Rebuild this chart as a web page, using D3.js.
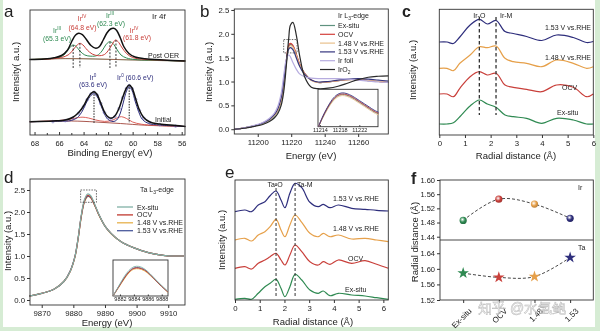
<!DOCTYPE html>
<html>
<head>
<meta charset="utf-8">
<script src="https://cdn.jsdelivr.net/npm/d3@7/dist/d3.min.js"></script>
<style>
  body { margin: 0; background: #fff; }
  svg { will-change: transform; }
  text { font-family: Arial, "Liberation Sans", sans-serif; opacity: 0.999; }
</style>
</head>
<body>
<svg id="chart" width="600" height="331"></svg>
<script>
// ---------- panel a : Ir 4f XPS (binding energy, a.u.) ----------
const aTicks = [68, 66, 64, 62, 60, 58, 56];
const aMinor = [67, 65, 63, 61, 59, 57];
const aPostTotal = [[68.4,75.5],[67.2,76],[66.4,77.2],[65.8,79.5],[65.3,85],[64.95,94],[64.65,100],[64.4,101.7],[64.1,100.3],[63.8,96],[63.4,89.5],[63.0,86.7],[62.7,88.5],[62.4,95],[62.1,102],[61.8,106],[61.55,106.7],[61.3,104.5],[61.0,97],[60.7,88],[60.3,81.5],[59.8,78],[59.0,76.3],[57.5,75],[55.7,74]];
const aPostIr3 = [[68.4,75.5],[66.8,76.3],[66.0,77.5],[65.6,80],[65.25,85.5],[64.95,89.5],[64.85,90],[64.6,88.5],[64.3,84],[63.9,80],[63.4,78.8],[62.9,79.5],[62.5,84],[62.2,90],[61.95,93],[61.85,93.3],[61.6,91.5],[61.3,86],[60.95,80],[60.5,77],[59.8,75.5],[57.5,74.6],[55.7,74]];
const aPostIr4 = [[68.4,75.5],[66.8,76],[65.8,77.5],[65.2,80.5],[64.8,86],[64.5,90.3],[64.3,91.7],[64.05,90],[63.7,85],[63.3,81],[62.8,79.3],[62.3,80.5],[61.9,86],[61.6,92],[61.4,95],[61.2,93.5],[60.9,88],[60.5,81.5],[60.0,77.5],[59.2,75.8],[57.5,74.8],[55.7,74]];
const aPostBg = [[68.4,75.5],[65.5,76.4],[63,76],[60.5,75.2],[58,74.5],[55.7,74]];
const aInitTotal = [[68.4,13.3],[66.5,14],[65.5,15],[64.9,17.5],[64.4,22.5],[64.0,29],[63.7,36],[63.4,41.5],[63.15,43.3],[62.9,40.5],[62.6,32],[62.3,23],[62.0,18],[61.75,16.8],[61.45,19],[61.1,27],[60.8,38],[60.5,47],[60.28,50],[60.05,47],[59.75,36],[59.45,25],[59.1,17.5],[58.6,13],[57.8,11],[56.5,9.5],[55.7,8.5]];
const aInitIr0 = [[68.4,13.3],[66,13.8],[65,14.5],[64.5,17.5],[64.1,24],[63.75,33],[63.4,39.5],[63.15,41.3],[62.9,38.5],[62.6,30],[62.3,21],[62.0,15.5],[61.6,13.5],[61.3,15],[61.0,22],[60.75,33],[60.5,44],[60.28,48],[60.05,44.5],[59.8,34],[59.5,23],[59.2,15.5],[58.7,11.5],[57.8,10],[55.7,8.5]];
const aInitOx = [[68.4,13.3],[66,14.5],[65.0,16],[64.4,17.5],[64.05,17.8],[63.6,17],[63.0,15],[62.3,13.6],[61.7,14.5],[61.2,17.5],[60.9,18.3],[60.5,16.5],[60.0,13],[59.3,10.8],[58,9.6],[55.7,8.5]];
const aInitBg = [[68.4,13.3],[65,14],[63,13],[61,11.5],[59,9.8],[55.7,8.5]];
const aPostDrops = [[64.85,90],[64.3,91.7],[61.85,93.3],[61.36,95]];
const aInitDrops = [[63.15,43.3],[60.28,50]];

// ---------- panel b : Ir L3-edge XANES ----------
const bTicksX = [11200, 11220, 11240, 11260];
const bTicksY = [0, 0.5, 1.0, 1.5, 2.0, 2.5];
const bE = [11186,11192,11198,11203,11207,11210,11212,11214,11215.5,11217,11218.5,11219.5,11221,11223,11225,11228,11232,11236,11242,11248,11254,11260,11266,11272,11278];
const bExsitu = [0.00,0.03,0.07,0.12,0.19,0.28,0.38,0.58,0.92,1.38,1.72,1.78,1.74,1.56,1.36,1.17,1.03,0.98,0.99,1.02,1.04,1.04,1.02,1.00,0.98];
const bOCV    = [0.00,0.03,0.07,0.13,0.21,0.30,0.41,0.62,0.96,1.42,1.76,1.80,1.76,1.58,1.37,1.17,1.03,0.98,0.99,1.02,1.04,1.04,1.02,1.00,0.98];
const b148    = [0.00,0.03,0.07,0.12,0.20,0.29,0.40,0.60,0.93,1.38,1.70,1.75,1.72,1.55,1.35,1.16,1.02,0.98,0.99,1.02,1.04,1.04,1.02,1.00,0.98];
const b153    = [0.00,0.03,0.07,0.13,0.21,0.31,0.43,0.66,1.00,1.42,1.68,1.71,1.67,1.50,1.32,1.15,1.03,0.99,1.00,1.03,1.05,1.06,1.05,1.03,1.01];
const bIrFoil = [0.00,0.03,0.08,0.14,0.23,0.34,0.48,0.75,1.12,1.45,1.56,1.52,1.40,1.26,1.16,1.10,1.07,1.06,1.06,1.06,1.05,1.03,1.01,0.99,0.98];
const bIrO2   = [0.00,0.02,0.06,0.10,0.16,0.24,0.33,0.50,0.78,1.30,1.90,2.18,2.24,1.98,1.55,1.10,0.88,0.85,0.86,0.90,0.97,1.04,1.09,1.11,1.12];
const bNames = ['Ex-situ', 'OCV', '1.48 V vs.RHE', '1.53 V vs.RHE', 'Ir foil', 'IrO2'];
const bInTicks = [11214, 11218, 11222];
const bInE = [11213.7,11214.5,11215.5,11216.5,11217.5,11218.3,11219,11220,11221,11222,11223,11224,11225,11225.9];
const bInExsitu = [1.50,1.58,1.67,1.74,1.785,1.80,1.80,1.785,1.76,1.73,1.70,1.67,1.64,1.62];
const bInOCV    = [1.50,1.585,1.675,1.745,1.79,1.805,1.805,1.79,1.765,1.735,1.705,1.675,1.645,1.625];
const bIn148    = [1.50,1.575,1.66,1.73,1.775,1.79,1.79,1.775,1.75,1.72,1.69,1.66,1.63,1.61];
const bIn153    = [1.50,1.59,1.68,1.755,1.80,1.815,1.815,1.80,1.775,1.745,1.715,1.685,1.655,1.635];

// ---------- panel c : Ir EXAFS (stacked, a.u.) ----------
const cTicks = [0, 1, 2, 3, 4, 5, 6];
const cR = [0,0.3,0.55,0.8,1.2,1.56,1.87,2.21,2.56,2.88,3.4,3.99,4.57,5.22,5.74,6.0];
const c153    = [93,93,91.5,98,110,115.7,111,114.5,103.5,101.5,98.5,94.5,100,97.5,92.5,93.5];
const c148    = [66.7,66.7,64.3,71.7,80,88.3,87.3,89,76.7,73.3,71.7,68.3,75,71.7,66.7,68.3];
const cOCV    = [41,41,38.3,46.7,58.3,63.3,60,61.7,50,47.7,45.7,43.3,50,47.7,38.3,41];
const cExsitu = [11,11,12.3,18.3,29,35,31,27.7,20,18.3,16.7,11.7,16.7,15,11,11];
const cPeaks = [1.56, 2.21];

// ---------- panel d : Ta L3-edge XANES ----------
const dTicksX = [9870, 9880, 9890, 9900, 9910];
const dTicksY = [0, 0.5, 1.0, 1.5, 2.0, 2.5];
const dE = [9866,9870,9874,9877,9879,9880.5,9881.5,9882.5,9883.5,9884.5,9885.5,9886.5,9888,9890,9892,9895,9899,9904,9909,9915];
const dExsitu = [0.09,0.15,0.25,0.42,0.65,0.98,1.40,1.92,2.28,2.41,2.37,2.22,1.96,1.68,1.51,1.33,1.19,1.07,1.01,1.00];
const dOCV    = [0.09,0.15,0.25,0.42,0.65,0.98,1.39,1.90,2.25,2.38,2.34,2.20,1.95,1.68,1.51,1.33,1.19,1.07,1.01,1.00];
const d148    = [0.09,0.15,0.25,0.42,0.65,0.97,1.38,1.88,2.22,2.35,2.32,2.19,1.94,1.68,1.50,1.33,1.19,1.07,1.01,1.00];
const d153    = [0.09,0.15,0.25,0.42,0.66,0.99,1.40,1.90,2.24,2.36,2.33,2.20,1.95,1.68,1.51,1.33,1.19,1.07,1.01,1.00];
const dNames = ['Ex-situ', 'OCV', '1.48 V vs.RHE', '1.53 V vs.RHE'];
const dInTicks = [9882, 9884, 9886, 9888];
const dInE = [9881,9881.8,9882.6,9883.3,9884,9884.7,9885.5,9886.3,9887.2,9888,9888.9];
const dInExsitu = [2.00,2.12,2.24,2.32,2.365,2.37,2.34,2.28,2.20,2.13,2.06];
const dInOCV    = [2.00,2.11,2.22,2.30,2.345,2.35,2.325,2.27,2.19,2.12,2.05];
const dIn148    = [2.00,2.105,2.21,2.29,2.335,2.34,2.315,2.26,2.185,2.115,2.045];
const dIn153    = [2.00,2.115,2.225,2.305,2.35,2.355,2.33,2.272,2.19,2.12,2.05];

// ---------- panel e : Ta EXAFS (stacked, a.u.) ----------
const eTicks = [0, 1, 2, 3, 4, 5, 6];
const eR = [0,0.40,0.67,0.94,1.21,1.42,1.66,1.86,2.02,2.22,2.43,2.70,3.03,3.37,3.57,3.84,4.18,4.72,5.26,5.73,6.2];
const e153    = [88.3,90,88.3,95,98.3,104.3,109,100,92.3,106.7,116.7,112.3,97.7,93.3,95.7,92.3,95,91.7,90.7,89.7,89];
const e148    = [60,61.7,59,65,68.3,73.3,80.7,70,63.3,75,85,77.7,66.7,63.3,66.7,63.3,65,61,61.7,60,58.3];
const eOCV    = [31.7,33.3,31,36.7,40,43.3,46.7,40,35,45,55,48.3,38.3,35,38.3,35.7,40,36.7,39.3,35.7,31.7];
const eExsitu = [0.7,1.7,0.7,6.7,13.3,16.7,20.7,11.7,3.3,13.3,25.7,20,10,6.7,9,4.3,6.7,5,4,2.3,0.7];
const ePeaks = [1.66, 2.43];

// ---------- panel f : fitted radial distances ----------
const fCats = ['Ex-situ', 'OCV', '1.48', '1.53'];
const fIr = [1.486, 1.546, 1.532, 1.492];
const fTa = [1.589, 1.578, 1.580, 1.629];
const fIrTicks = [1.44, 1.48, 1.52, 1.56, 1.60];
const fTaTicks = [1.52, 1.56, 1.60, 1.64];

const GREEN = '#2f8a52', RED = '#c9403b', ORANGE = '#e6a04a', NAVY = '#2e2e7c';

const svg = d3.select('#chart');
const ink = '#222';

const smooth = (x, y) => d3.line().x(d => x(d[0])).y(d => y(d[1])).curve(d3.curveCatmullRom.alpha(0.5));

function text(x, y, s, size, opt = {}) {
  const t = svg.append('text').attr('x', x).attr('y', y).attr('font-size', size)
    .attr('fill', opt.fill || ink).attr('text-anchor', opt.anchor || 'start')
    .attr('font-weight', opt.weight || 'normal');
  if (opt.rotate) t.attr('transform', `rotate(${opt.rotate},${x},${y})`);
  if (s !== null) t.text(s);
  return t;
}

function frame(x0, y0, x1, y1, fill) {
  return svg.append('rect').attr('x', x0).attr('y', y0).attr('width', x1 - x0).attr('height', y1 - y0)
    .attr('fill', fill || 'none').attr('stroke', '#333').attr('stroke-width', 0.9);
}

function axis(gen, tx, ty, size) {
  const g = svg.append('g').attr('transform', `translate(${tx},${ty})`).call(gen);
  g.select('.domain').remove();
  g.selectAll('line').attr('stroke', '#333');
  g.selectAll('text').attr('font-size', size).attr('fill', ink).attr('font-family', 'Arial, "Liberation Sans", sans-serif');
  return g;
}

function path(data, line, color, w, dash) {
  const p = svg.append('path').datum(data).attr('d', line).attr('fill', 'none')
    .attr('stroke', color).attr('stroke-width', w);
  if (dash) p.attr('stroke-dasharray', dash);
  return p;
}

// side strips of the page
svg.append('rect').attr('x', 0).attr('y', 0).attr('width', 3).attr('height', 331).attr('fill', '#d6ecd4');
svg.append('rect').attr('x', 595).attr('y', 0).attr('width', 5).attr('height', 331).attr('fill', '#d6ecd4');
svg.append('rect').attr('x', 0).attr('y', 327).attr('width', 600).attr('height', 4).attr('fill', '#d6ecd4');

// ===== a =====
{
  const x = d3.scaleLinear().domain([68.37, 55.73]).range([30, 185]);
  const y = d3.scaleLinear().domain([0, 125]).range([135, 10]);
  const ln = smooth(x, y);
  path(aPostBg, ln, GREEN, 0.8);
  path(aPostBg, ln, RED, 0.6);
  path(aPostIr3, ln, GREEN, 1);
  path(aPostIr4, ln, RED, 1);
  path(aPostTotal, ln, '#111', 1.5);
  path(aInitBg, ln, '#a0443a', 0.9);
  path(aInitOx, ln, '#d9504a', 0.9);
  path(aInitIr0, ln, NAVY, 1);
  svg.append('g').selectAll('circle').data(aInitTotal.slice(1, -1)).join('circle')
    .attr('cx', d => x(d[0])).attr('cy', d => y(d[1]) + 0.6).attr('r', 1.3)
    .attr('fill', 'none').attr('stroke', '#7070c0').attr('stroke-width', 0.6);
  path(aInitTotal, ln, '#111', 1.5);
  aPostDrops.forEach(d => svg.append('line').attr('x1', x(d[0])).attr('x2', x(d[0]))
    .attr('y1', y(d[1])).attr('y2', y(67)).attr('stroke', '#222').attr('stroke-width', 0.9).attr('stroke-dasharray', '2,1.5'));
  aInitDrops.forEach(d => svg.append('line').attr('x1', x(d[0])).attr('x2', x(d[0]))
    .attr('y1', y(d[1])).attr('y2', y(12)).attr('stroke', '#222').attr('stroke-width', 1).attr('stroke-dasharray', '1.5,1.2'));
  frame(30, 10, 185, 135);
  axis(d3.axisBottom(x).tickValues(aTicks).tickFormat(d3.format('d')).tickSize(-3).tickPadding(5.5), 0, 135, 7.5);
  axis(d3.axisBottom(x).tickValues(aMinor).tickFormat('').tickSize(-2), 0, 135, 7.5);

  const sup = (cx, y0, sp, color) => {
    const t = text(cx, y0, null, 6.8, { fill: color, anchor: 'middle' });
    t.append('tspan').text('Ir');
    t.append('tspan').attr('dy', -2.8).attr('font-size', 4.6).text(sp);
    return t;
  };
  sup(57, 33, 'III', GREEN);  text(57, 41, '(65.3 eV)', 6.8, { fill: GREEN, anchor: 'middle' });
  sup(82, 20.5, 'IV', RED);   text(82.5, 29.5, '(64.8 eV)', 6.8, { fill: RED, anchor: 'middle' });
  sup(110, 18, 'III', GREEN); text(111, 26, '(62.3 eV)', 6.8, { fill: GREEN, anchor: 'middle' });
  sup(134, 32.5, 'IV', RED);  text(137, 39.5, '(61.8 eV)', 6.8, { fill: RED, anchor: 'middle' });
  sup(93, 80, '0', NAVY);     text(93, 87, '(63.6 eV)', 6.8, { fill: NAVY, anchor: 'middle' });
  const t0 = text(117, 80, null, 6.8, { fill: NAVY });
  t0.append('tspan').text('Ir');
  t0.append('tspan').attr('dy', -2.8).attr('font-size', 4.6).text('0');
  t0.append('tspan').attr('dy', 2.8).text(' (60.6 eV)');
  text(152, 19, 'Ir 4f', 8);
  text(148, 58, 'Post OER', 7);
  text(155, 122, 'Initial', 7);
  text(4, 17, 'a', 17);
  text(110, 155.5, 'Binding Energy( eV)', 9.5, { anchor: 'middle' });
  text(19, 72, 'Intensity( a.u.)', 9.5, { anchor: 'middle', rotate: -90 });
}

// ===== b =====
{
  const x = d3.scaleLinear().domain([11186, 11278]).range([234.3, 388.3]);
  const y = d3.scaleLinear().domain([-0.1, 2.52]).range([134, 9]);
  const ln = smooth(x, y);
  const series = [bExsitu, bOCV, b148, b153, bIrFoil, bIrO2];
  const colors = ['#5e927f', '#d4403c', '#e9c08c', '#35357e', '#b6acdf', '#2a2a2a'];
  series.forEach((s, i) => path(d3.zip(bE, s), ln, colors[i], 1.2));
  svg.append('rect').attr('x', x(11215.5)).attr('y', y(1.88)).attr('width', x(11223.5) - x(11215.5))
    .attr('height', y(1.60) - y(1.88)).attr('fill', 'none').attr('stroke', '#444').attr('stroke-width', 0.8).attr('stroke-dasharray', '1.5,1.2');

  const xi = d3.scaleLinear().domain([11213.6, 11225.8]).range([318, 378]);
  const yi = d3.scaleLinear().domain([1.50, 1.85]).range([126.7, 89.3]);
  frame(318, 89.3, 378, 126.7, '#fff');
  const li = smooth(xi, yi);
  [bIn148, bInExsitu, bInOCV, bIn153].forEach((s, i) =>
    path(d3.zip(bInE, s), li, [colors[2], colors[0], colors[1], colors[3]][i], 0.9));
  axis(d3.axisBottom(xi).tickValues(bInTicks).tickFormat(d3.format('d')).tickSize(-1.5).tickPadding(1), 0, 126.7, 5.5);

  frame(234.3, 9, 388.3, 134);
  axis(d3.axisBottom(x).tickValues(bTicksX).tickFormat(d3.format('d')).tickSize(3).tickPadding(2.5), 0, 134, 7.8);
  axis(d3.axisLeft(y).tickValues(bTicksY).tickFormat(d3.format('.1f')).tickSize(3).tickPadding(2), 234.3, 0, 7.8);

  const lg = text(338, 18, null, 7);
  lg.append('tspan').text('Ir L');
  lg.append('tspan').attr('dy', 2).attr('font-size', 5).text('3');
  lg.append('tspan').attr('dy', -2).text('-edge');
  bNames.forEach((n, i) => {
    const yy = 25.5 + i * 8.8;
    svg.append('line').attr('x1', 320).attr('x2', 335).attr('y1', yy).attr('y2', yy).attr('stroke', colors[i]).attr('stroke-width', 1.2);
    const t = text(338, yy + 2.5, null, 7);
    if (n === 'IrO2') {
      t.append('tspan').text('IrO');
      t.append('tspan').attr('dy', 2).attr('font-size', 5).text('2');
    } else t.text(n);
  });
  text(200, 17, 'b', 17);
  text(311, 158.5, 'Energy (eV)', 9.5, { anchor: 'middle' });
  text(212, 72, 'Intensity (a.u.)', 9.5, { anchor: 'middle', rotate: -90 });
}

// ===== c =====
{
  const x = d3.scaleLinear().domain([0, 6]).range([439.3, 593.3]);
  const y = d3.scaleLinear().domain([0, 125.7]).range([135, 9.3]);
  const ln = smooth(x, y);
  [[c153, NAVY], [c148, ORANGE], [cOCV, RED], [cExsitu, GREEN]].forEach(([s, c]) => path(d3.zip(cR, s), ln, c, 1.2));
  cPeaks.forEach(r => svg.append('line').attr('x1', x(r)).attr('x2', x(r)).attr('y1', y(118)).attr('y2', y(20))
    .attr('stroke', '#333').attr('stroke-width', 1.3).attr('stroke-dasharray', '3.5,2.5'));
  frame(439.3, 9.3, 593.3, 135);
  axis(d3.axisBottom(x).tickValues(cTicks).tickFormat(d3.format('d')).tickSize(3).tickPadding(2.5), 0, 135, 7.8);
  text(x(1.56), 17.5, 'Ir-O', 7, { anchor: 'middle' });
  text(500, 17.5, 'Ir-M', 7);
  text(545, 30, '1.53 V vs.RHE', 7);
  text(545, 59.5, '1.48 V vs.RHE', 7);
  text(562, 90, 'OCV', 7);
  text(557, 115, 'Ex-situ', 7);
  text(402, 17, 'c', 16, { weight: 'bold' });
  text(516, 158.5, 'Radial distance (Å)', 9.5, { anchor: 'middle' });
  text(416, 70, 'Intensity (a.u.)', 9.5, { anchor: 'middle', rotate: -90 });
}

// ===== d =====
{
  const x = d3.scaleLinear().domain([9866.3, 9915.3]).range([30, 185]);
  const y = d3.scaleLinear().domain([-0.114, 2.75]).range([305, 179]);
  const ln = smooth(x, y);
  const colors = ['#80b0a6', '#c0392f', '#e7b24c', '#4b5a9c'];
  [d148, d153, dOCV, dExsitu].forEach((s, i) => path(d3.zip(dE, s), ln, [colors[2], colors[3], colors[1], colors[0]][i], 1.2));
  svg.append('rect').attr('x', x(9882.3)).attr('y', y(2.50)).attr('width', x(9887.3) - x(9882.3))
    .attr('height', y(2.22) - y(2.50)).attr('fill', 'none').attr('stroke', '#444').attr('stroke-width', 0.8).attr('stroke-dasharray', '1.5,1.2');

  const xi = d3.scaleLinear().domain([9881, 9888.9]).range([113, 168]);
  const yi = d3.scaleLinear().domain([2.0, 2.45]).range([296, 260]);
  frame(113, 260, 168, 296, '#fff');
  const li = smooth(xi, yi);
  [[dIn148, colors[2]], [dIn153, colors[3]], [dInOCV, colors[1]], [dInExsitu, colors[0]]]
    .forEach(([s, c]) => path(d3.zip(dInE, s), li, c, 0.9));
  axis(d3.axisBottom(xi).tickValues(dInTicks).tickFormat(d3.format('d')).tickSize(-1.5).tickPadding(1), 0, 296, 5.5);

  frame(30, 179, 185, 305);
  axis(d3.axisBottom(x).tickValues(dTicksX).tickFormat(d3.format('d')).tickSize(3).tickPadding(2.5), 0, 305, 7.8);
  axis(d3.axisLeft(y).tickValues(dTicksY).tickFormat(d3.format('.1f')).tickSize(3).tickPadding(2), 30, 0, 7.8);

  const lg = text(140, 192, null, 7);
  lg.append('tspan').text('Ta L');
  lg.append('tspan').attr('dy', 2).attr('font-size', 5).text('3');
  lg.append('tspan').attr('dy', -2).text('-edge');
  dNames.forEach((n, i) => {
    const yy = 207 + i * 7.9;
    svg.append('line').attr('x1', 117).attr('x2', 133).attr('y1', yy).attr('y2', yy).attr('stroke', colors[i]).attr('stroke-width', 1.3);
    text(137, yy + 2.5, n, 7);
  });
  text(4, 183, 'd', 17);
  text(107, 326, 'Energy (eV)', 9.5, { anchor: 'middle' });
  text(11, 241, 'Intensity (a.u.)', 9.5, { anchor: 'middle', rotate: -90 });
}

// ===== e =====
{
  const x = d3.scaleLinear().domain([0, 6.2]).range([235, 388.3]);
  const y = d3.scaleLinear().domain([0, 120]).range([300, 180]);
  const ln = smooth(x, y);
  [[e153, NAVY], [e148, ORANGE], [eOCV, RED], [eExsitu, GREEN]].forEach(([s, c]) => path(d3.zip(eR, s), ln, c, 1.2));
  ePeaks.forEach(r => svg.append('line').attr('x1', x(r)).attr('x2', x(r)).attr('y1', y(117)).attr('y2', y(3.3))
    .attr('stroke', '#333').attr('stroke-width', 1).attr('stroke-dasharray', '3,2'));
  frame(235, 180, 388.3, 300);
  axis(d3.axisBottom(x).tickValues(eTicks).tickFormat(d3.format('d')).tickSize(3).tickPadding(2.5), 0, 300, 7.8);
  text(x(1.66) - 1, 187, 'Ta-O', 7, { anchor: 'middle' });
  text(297, 187, 'Ta-M', 7);
  text(333, 201, '1.53 V vs.RHE', 7);
  text(333, 230.5, '1.48 V vs.RHE', 7);
  text(348, 260.5, 'OCV', 7);
  text(345, 291.5, 'Ex-situ', 7);
  text(225, 178, 'e', 17);
  text(313, 324.5, 'Radial distance (Å)', 9.5, { anchor: 'middle' });
  text(225, 240, 'Intensity (a.u.)', 9.5, { anchor: 'middle', rotate: -90 });
}

// ===== f =====
{
  const x = d3.scalePoint().domain(fCats).range([440, 593.3]).padding(0.65);
  const yIr = d3.scaleLinear().domain([1.4307, 1.60]).range([240, 180]);
  const yTa = d3.scaleLinear().domain([1.52, 1.674]).range([300, 240]);
  const colors = [GREEN, RED, ORANGE, NAVY];
  const defs = svg.append('defs');
  colors.forEach((c, i) => {
    const g = defs.append('radialGradient').attr('id', 'ball' + i).attr('cx', '40%').attr('cy', '38%').attr('r', '65%');
    g.append('stop').attr('offset', '0%').attr('stop-color', '#fff');
    g.append('stop').attr('offset', '55%').attr('stop-color', c);
    g.append('stop').attr('offset', '100%').attr('stop-color', d3.color(c).darker(0.6));
  });
  const ln = (yy) => d3.line().x((d, i) => x(fCats[i])).y(d => yy(d)).curve(d3.curveCatmullRom.alpha(0.5));
  path(fIr, ln(yIr), '#333', 0.9, '3,2');
  path(fTa, ln(yTa), '#333', 0.9, '3,2');
  svg.append('g').selectAll('circle').data(fIr).join('circle')
    .attr('cx', (d, i) => x(fCats[i])).attr('cy', d => yIr(d)).attr('r', 3.6)
    .attr('fill', (d, i) => `url(#ball${i})`);
  const star = d3.symbol().type(d3.symbolStar).size(42);
  svg.append('g').selectAll('path').data(fTa).join('path')
    .attr('d', star).attr('transform', (d, i) => `translate(${x(fCats[i])},${yTa(d)})`)
    .attr('fill', (d, i) => colors[i]);
  frame(440, 180, 593.3, 300);
  svg.append('line').attr('x1', 440).attr('x2', 593.3).attr('y1', 240).attr('y2', 240).attr('stroke', '#333').attr('stroke-width', 0.9);
  axis(d3.axisLeft(yIr).tickValues(fIrTicks).tickFormat(d3.format('.2f')).tickSize(3).tickPadding(2), 440, 0, 7.5);
  axis(d3.axisLeft(yTa).tickValues(fTaTicks).tickFormat(d3.format('.2f')).tickSize(3).tickPadding(2), 440, 0, 7.5);
  const gx = axis(d3.axisBottom(x).tickSize(3).tickPadding(2), 0, 300, 8);
  gx.selectAll('text').attr('text-anchor', 'end').attr('dy', '0.35em')
    .attr('transform', 'translate(3,6) rotate(-45)');
  text(578, 190, 'Ir', 7);
  text(578, 250, 'Ta', 7);
  text(411, 184, 'f', 16, { weight: 'bold' });
  text(418, 242, 'Radial distance (Å)', 9.5, { anchor: 'middle', rotate: -90 });
  text(478, 313, '知乎 @水氢鲍', 14, { fill: 'rgba(255,255,255,0.55)' })
    .attr('stroke', '#b8b8b8').attr('stroke-width', 0.5).attr('font-family', '"Noto Sans CJK SC", sans-serif');
}
</script>
</body>
</html>
